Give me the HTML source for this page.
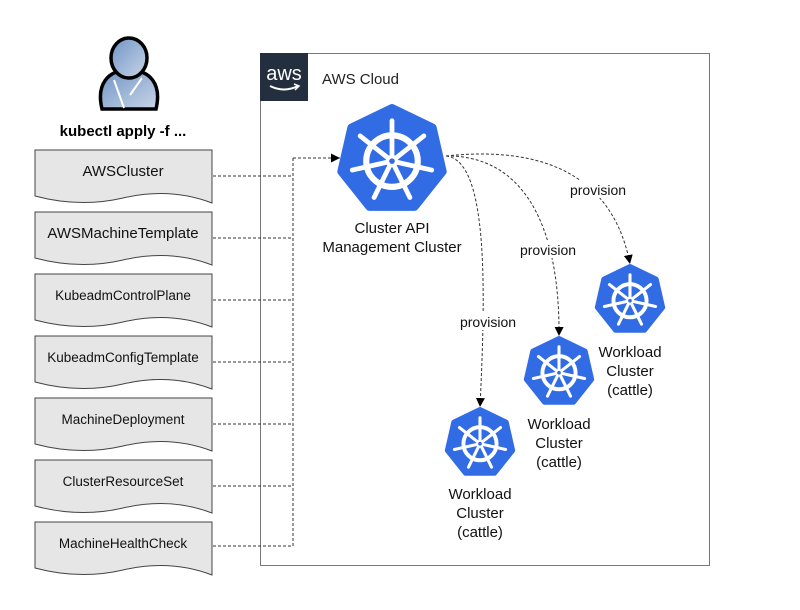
<!DOCTYPE html>
<html><head><meta charset="utf-8"><style>
html,body{margin:0;padding:0;background:#fff;}
svg{display:block;font-family:"Liberation Sans",sans-serif;}
</style></head><body>
<svg width="800" height="610" viewBox="0 0 800 610" xmlns="http://www.w3.org/2000/svg">
<defs>
<symbol id="k8s" viewBox="-1 -1 2 2" overflow="visible">
<polygon points="0,-0.93 0.727,-0.58 0.907,0.207 0.404,0.838 -0.404,0.838 -0.907,0.207 -0.727,-0.58" fill="#326ce5" stroke="#326ce5" stroke-width="0.14" stroke-linejoin="round"/>
<g stroke="#fff" fill="none">
<circle cx="0" cy="0.02" r="0.46" stroke-width="0.11"/>
<g stroke-width="0.085" stroke-linecap="round">
<line x1="0" y1="0.02" x2="0" y2="-0.7"/>
<line x1="0" y1="0.02" x2="0.57" y2="-0.43"/>
<line x1="0" y1="0.02" x2="0.71" y2="0.18"/>
<line x1="0" y1="0.02" x2="0.32" y2="0.67"/>
<line x1="0" y1="0.02" x2="-0.32" y2="0.67"/>
<line x1="0" y1="0.02" x2="-0.71" y2="0.18"/>
<line x1="0" y1="0.02" x2="-0.57" y2="-0.43"/>
</g>
</g>
<circle cx="0" cy="0.02" r="0.11" fill="#fff"/>
<circle cx="0" cy="0.02" r="0.05" fill="#326ce5"/>
</symbol>
<marker id="ah" viewBox="0 0 10 10" refX="10" refY="5" markerWidth="9" markerHeight="9" markerUnits="userSpaceOnUse" orient="auto"><path d="M0,0 L10,5 L0,10 z" fill="#000"/></marker>
<linearGradient id="pg" x1="0" y1="0" x2="1" y2="1"><stop offset="0" stop-color="#6f93c4"/><stop offset="1" stop-color="#c9d6e8"/></linearGradient>
</defs>

<rect x="260.5" y="53.5" width="449" height="512" fill="#fff" stroke="#777" stroke-width="1"/>
<rect x="260" y="53" width="48" height="48" fill="#232f3e"/>
<text x="284" y="80" font-size="20" fill="#fff" text-anchor="middle">aws</text>
<path d="M270,86 Q284,93 298,86" stroke="#fff" stroke-width="2" fill="none"/>
<path d="M294,84 L299,86 L295,90" stroke="#fff" stroke-width="1.5" fill="none"/>
<text x="322" y="84" font-size="15" fill="#222">AWS Cloud</text>

<!-- person -->
<g stroke="#000" stroke-width="3.5" fill="url(#pg)">
<path d="M102,109 C96,84 108,70 129,70 C150,70 162,84 156,109 Z"/>
<ellipse cx="129" cy="58" rx="18" ry="20"/>
</g>
<path d="M114,80 L124,108 M142,78 L130,95" stroke="#fff" stroke-width="2" fill="none"/>
<text x="123" y="136" font-size="15" font-weight="bold" text-anchor="middle" fill="#000">kubectl apply -f ...</text>

<g stroke="#444" stroke-width="1" fill="#e6e6e6">
<path d="M35,150 H212 V203 Q170,187 123,198 Q80,208 35,196 Z"/>
<path d="M35,212 H212 V265 Q170,249 123,260 Q80,270 35,258 Z"/>
<path d="M35,274 H212 V327 Q170,311 123,322 Q80,332 35,320 Z"/>
<path d="M35,336 H212 V389 Q170,373 123,384 Q80,394 35,382 Z"/>
<path d="M35,398 H212 V451 Q170,435 123,446 Q80,456 35,444 Z"/>
<path d="M35,460 H212 V513 Q170,497 123,508 Q80,518 35,506 Z"/>
<path d="M35,522 H212 V575 Q170,559 123,570 Q80,580 35,568 Z"/>
</g>
<g font-size="14" fill="#111" text-anchor="middle">
<text x="123" y="176" font-size="15">AWSCluster</text>
<text x="123" y="238" font-size="15">AWSMachineTemplate</text>
<text x="123" y="300" font-size="13.5">KubeadmControlPlane</text>
<text x="123" y="362" font-size="13.5">KubeadmConfigTemplate</text>
<text x="123" y="424" font-size="13.5">MachineDeployment</text>
<text x="123" y="486" font-size="13.5">ClusterResourceSet</text>
<text x="123" y="548" font-size="13.5">MachineHealthCheck</text>
</g>

<g stroke="#333" stroke-width="1" stroke-dasharray="3,2" fill="none">
<path d="M213,176 H293"/><path d="M213,238 H293"/><path d="M213,300 H293"/>
<path d="M213,362 H293"/><path d="M213,424 H293"/><path d="M213,486 H293"/><path d="M213,546 H293"/>
<path d="M293,546 V158"/>
<path d="M293,158 H340" marker-end="url(#ah)"/>
<path d="M446,156 C520,148 610,160 630,264" marker-end="url(#ah)"/>
<path d="M446,156 C520,155 560,220 559,336" marker-end="url(#ah)"/>
<path d="M446,156 C490,160 485,300 480,407" marker-end="url(#ah)"/>
</g>
<g font-size="14" fill="#111" text-anchor="middle">
<rect x="566" y="180" width="64" height="18" fill="#fff"/>
<text x="598" y="195">provision</text>
<rect x="516" y="240" width="64" height="18" fill="#fff"/>
<text x="548" y="255">provision</text>
<rect x="456" y="312" width="64" height="18" fill="#fff"/>
<text x="488" y="327">provision</text>
</g>

<use href="#k8s" x="336" y="104" width="112" height="112"/>
<use href="#k8s" x="594" y="264" width="72" height="72"/>
<use href="#k8s" x="523" y="336" width="72" height="72"/>
<use href="#k8s" x="444" y="407" width="72" height="72"/>

<g font-size="15" fill="#111" text-anchor="middle">
<text x="392" y="233">Cluster API</text>
<text x="392" y="252">Management Cluster</text>
<text x="630" y="357">Workload</text><text x="630" y="376">Cluster</text><text x="630" y="395">(cattle)</text>
<text x="559" y="429">Workload</text><text x="559" y="448">Cluster</text><text x="559" y="467">(cattle)</text>
<text x="480" y="499">Workload</text><text x="480" y="518">Cluster</text><text x="480" y="537">(cattle)</text>
</g>
</svg>
</body></html>
